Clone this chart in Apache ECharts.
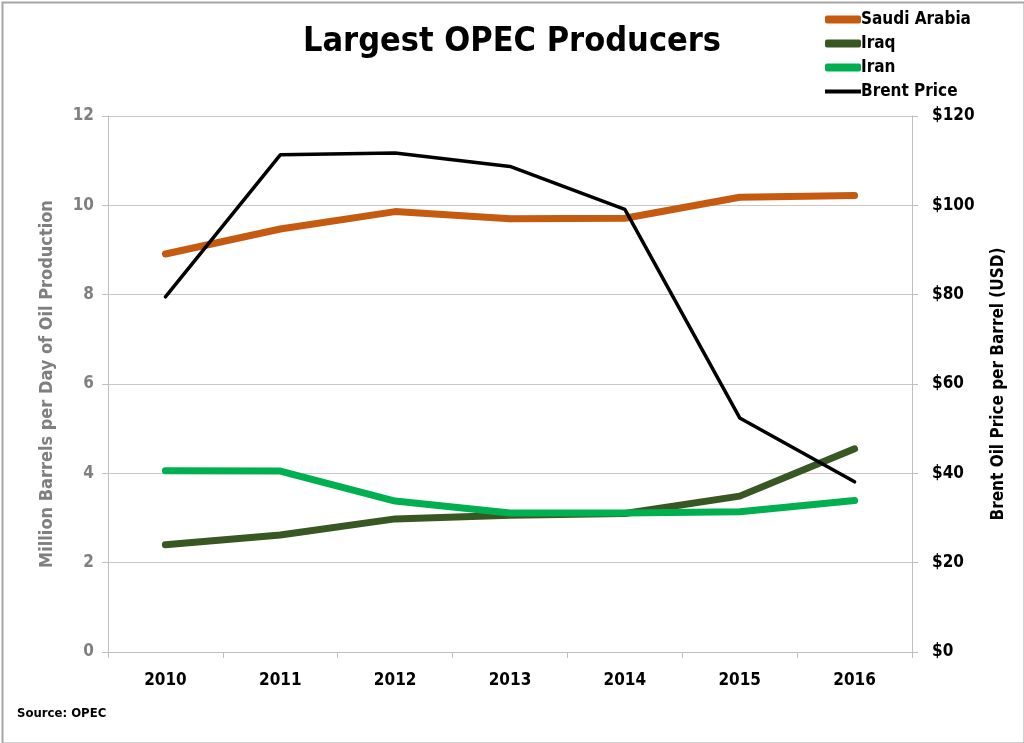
<!DOCTYPE html>
<html>
<head>
<meta charset="utf-8">
<script src="https://cdn.jsdelivr.net/npm/echarts@6/dist/echarts.min.js"></script>
<style>
  html, body { margin: 0; padding: 0; background: #fff; }
  #chart { width: 1024px; height: 743px; }
</style>
</head>
<body>
<div id="chart"></div>
<script>
// chart data
var years = ['2010', '2011', '2012', '2013', '2014', '2015', '2016']
var saudiArabia = [8.91, 9.47, 9.86, 9.70, 9.71, 10.18, 10.22]
var iraq = [2.40, 2.62, 2.98, 3.06, 3.10, 3.49, 4.55]
var iran = [4.06, 4.05, 3.38, 3.11, 3.11, 3.14, 3.39]
var brentPrice = [79.5, 111.3, 111.7, 108.7, 99.1, 52.4, 38.1]

var font = '"Liberation Sans Narrow", "DejaVu Sans Condensed", sans-serif'

var myChart = echarts.init(document.getElementById('chart'), null, { renderer: 'canvas' })

var option = {
  animation: false,
  textStyle: { fontFamily: font },
  title: {
    text: 'Largest OPEC Producers',
    left: 'center',
    top: 20,
    textStyle: { fontFamily: font, fontSize: 34, fontWeight: 'bold', color: '#000' }
  },
  legend: {
    orient: 'vertical',
    left: 820,
    top: 6,
    itemGap: 7,
    itemWidth: 36,
    itemHeight: 8,
    textStyle: { fontFamily: font, fontSize: 17, fontWeight: 'bold', color: '#000', padding: [0, 0, 0, -5] },
    data: [
      { name: 'Saudi Arabia', icon: 'roundRect' },
      { name: 'Iraq', icon: 'roundRect' },
      { name: 'Iran', icon: 'roundRect' },
      { name: 'Brent Price', icon: 'path://M0,0 h36 v4 h-36 Z' }
    ]
  },
  grid: { left: 108, right: 112, top: 116, bottom: 91 },
  xAxis: {
    type: 'category',
    data: years,
    boundaryGap: true,
    axisLine: { lineStyle: { color: '#bfbfbf', width: 1 } },
    axisTick: { show: true, length: 6, lineStyle: { color: '#bfbfbf' } },
    axisLabel: { fontFamily: font, fontSize: 17, fontWeight: 'bold', color: '#000', margin: 20 }
  },
  yAxis: [
    {
      type: 'value',
      min: 0,
      max: 12,
      interval: 2,
      position: 'left',
      name: 'Million Barrels per Day of Oil Production',
      nameLocation: 'middle',
      nameGap: 52,
      nameTextStyle: { fontFamily: font, fontSize: 18, fontWeight: 'bold', color: '#7f7f7f' },
      axisLine: { show: true, lineStyle: { color: '#bfbfbf' } },
      axisTick: { show: true, length: 6, lineStyle: { color: '#bfbfbf' } },
      axisLabel: { fontFamily: font, fontSize: 17, fontWeight: 'bold', color: '#7f7f7f', margin: 14 },
      splitLine: { show: true, lineStyle: { color: '#c8c8c8', width: 1 } }
    },
    {
      type: 'value',
      min: 0,
      max: 120,
      interval: 20,
      position: 'right',
      name: 'Brent Oil Price per Barrel (USD)',
      nameLocation: 'middle',
      nameGap: 78,
      nameRotate: 90,
      nameTextStyle: { fontFamily: font, fontSize: 17, fontWeight: 'bold', color: '#000' },
      axisLine: { show: true, lineStyle: { color: '#bfbfbf' } },
      axisTick: { show: true, length: 6, lineStyle: { color: '#bfbfbf' } },
      axisLabel: {
        fontFamily: font, fontSize: 17, fontWeight: 'bold', color: '#000', margin: 20,
        formatter: function (v) { return '$' + v }
      },
      splitLine: { show: false }
    }
  ],
  series: [
    {
      name: 'Saudi Arabia',
      type: 'line',
      data: saudiArabia,
      yAxisIndex: 0,
      symbol: 'none',
      color: '#c55a11',
      lineStyle: { width: 7, cap: 'round', join: 'round' }
    },
    {
      name: 'Iraq',
      type: 'line',
      data: iraq,
      yAxisIndex: 0,
      symbol: 'none',
      color: '#385723',
      lineStyle: { width: 7, cap: 'round', join: 'round' }
    },
    {
      name: 'Iran',
      type: 'line',
      data: iran,
      yAxisIndex: 0,
      symbol: 'none',
      color: '#00b050',
      lineStyle: { width: 7, cap: 'round', join: 'round' }
    },
    {
      name: 'Brent Price',
      type: 'line',
      data: brentPrice,
      yAxisIndex: 1,
      symbol: 'none',
      color: '#000',
      lineStyle: { width: 3.5, cap: 'round' }
    }
  ],
  graphic: [
    // frame round the whole chart
    {
      type: 'rect',
      left: 0,
      top: 0,
      shape: { x: 1, y: 1, width: 1022, height: 741 },
      style: { fill: 'none', stroke: '#a6a6a6', lineWidth: 2 },
      silent: true
    },
    {
      type: 'text',
      left: 17,
      top: 707,
      style: { text: 'Source: OPEC', fontFamily: font, fontSize: 13, fontWeight: 'bold', fill: '#000' }
    }
  ]
}

myChart.setOption(option)
</script>
</body>
</html>
